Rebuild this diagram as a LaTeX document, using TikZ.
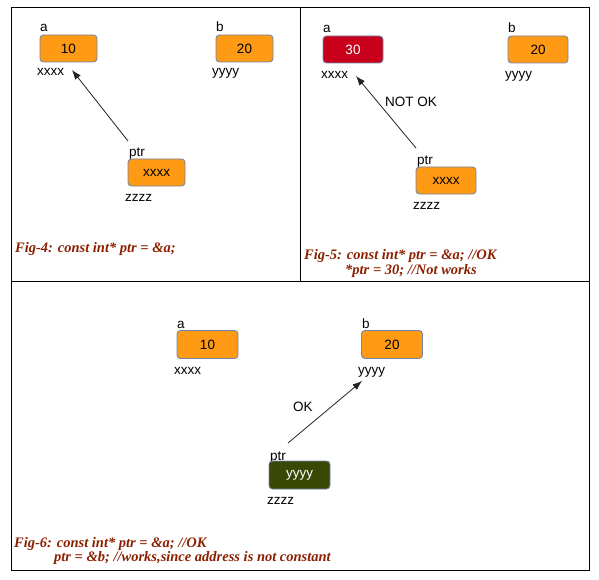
\documentclass[tikz,border=0pt]{standalone}
\usepackage{fontspec}
\setmainfont{Liberation Sans}
\newfontfamily\capfamily{Liberation Serif}
\usetikzlibrary{arrows.meta}
\definecolor{boxedge}{HTML}{7486A8}
\definecolor{orangefill}{HTML}{FF9A14}
\definecolor{redfill}{HTML}{C8001C}
\definecolor{greenfill}{HTML}{3A4806}
\definecolor{capred}{HTML}{8B1F00}
\definecolor{arrowcol}{HTML}{222222}
\tikzset{
  lblfont/.style={font=\fontsize{13.5bp}{16bp}\selectfont},
  mem/.style={rectangle, rounded corners=3.5bp, draw=boxedge, line width=0.9bp,
    fill=orangefill, inner sep=0pt, lblfont, text=black},
  redmem/.style={mem, fill=redfill, text=white},
  greenmem/.style={mem, fill=greenfill, text=white},
  lbl/.style={inner sep=0pt, anchor=base west, lblfont},
  captext/.style={inner sep=0pt, anchor=base west, text=capred,
    font=\capfamily\bfseries\itshape\fontsize{14.5bp}{16bp}\selectfont},
  ptrarrow/.style={draw=arrowcol, line width=0.8bp, -{Latex[length=9.5bp,width=7bp]}},
  frame/.style={draw=black, line width=1bp}
}
\begin{document}
\begin{tikzpicture}[x=1bp,y=-1bp]
\useasboundingbox (0,0) rectangle (599,580);
% frames
\draw[frame] (11,8) rectangle (589,570);
\draw[frame] (11,281) -- (589,281);
\draw[frame] (300,8) -- (300,281);

% ---------- Fig-4 ----------
\node[lbl] (a1) at (40,32) {a};
\node[mem, minimum width=57bp, minimum height=27bp] (ba1) at (68.5,48.5) {10};
\node[lbl] (xa1) at (37,76) {xxxx};
\node[lbl] (b1) at (216,32) {b};
\node[mem, minimum width=57bp, minimum height=27bp] (bb1) at (244.5,48.5) {20};
\node[lbl] (yb1) at (212,76) {yyyy};
\node[lbl] (p1) at (129,157) {ptr};
\node[mem, minimum width=57bp, minimum height=27bp] (bp1) at (156.5,172.5) {xxxx};
\node[lbl] (z1) at (125,201) {zzzz};
\coordinate (s1) at (128,141);
\coordinate (t1) at (72,70);
\draw[ptrarrow] (s1) -- (t1);
\node[captext] (c4) at (15,252) {Fig-4: const int* ptr = \&a;};

% ---------- Fig-5 ----------
\node[lbl] (a2) at (323,33) {a};
\node[redmem, minimum width=60bp, minimum height=27bp] (ba2) at (353,49.5) {30};
\node[lbl] (xa2) at (321,79) {xxxx};
\node[lbl] (b2) at (508,33) {b};
\node[mem, minimum width=60bp, minimum height=27bp] (bb2) at (538,49.5) {20};
\node[lbl] (yb2) at (505,79) {yyyy};
\node[lbl] (nok) at (385,107) {NOT OK};
\node[lbl] (p2) at (417,165) {ptr};
\node[mem, minimum width=60bp, minimum height=27bp] (bp2) at (446,180.5) {xxxx};
\node[lbl] (z2) at (413,209) {zzzz};
\coordinate (s2) at (416,148);
\coordinate (t2) at (356,76);
\draw[ptrarrow] (s2) -- (t2);
\node[captext] (c5a) at (304,259) {Fig-5: const int* ptr = \&a; //OK};
\node[captext] (c5b) at (345,274) {*ptr = 30; //Not works};

% ---------- Fig-6 ----------
\node[lbl] (a3) at (177,328) {a};
\node[mem, minimum width=61bp, minimum height=28bp] (ba3) at (207.5,344.5) {10};
\node[lbl] (xa3) at (174,374) {xxxx};
\node[lbl] (b3) at (362,328) {b};
\node[mem, minimum width=61bp, minimum height=28bp] (bb3) at (392,344.5) {20};
\node[lbl] (yb3) at (358,374) {yyyy};
\node[lbl] (ok) at (293,411) {OK};
\node[lbl] (p3) at (270,460) {ptr};
\node[greenmem, minimum width=61bp, minimum height=28bp] (bp3) at (299.5,475) {yyyy};
\node[lbl] (z3) at (267,504) {zzzz};
\coordinate (s3) at (288,443);
\coordinate (t3) at (362,381);
\draw[ptrarrow] (s3) -- (t3);
\node[captext] (c6a) at (14,547) {Fig-6: const int* ptr = \&a; //OK};
\node[captext] (c6b) at (54,561) {ptr = \&b; //works,since address is not constant};
\end{tikzpicture}
\end{document}
